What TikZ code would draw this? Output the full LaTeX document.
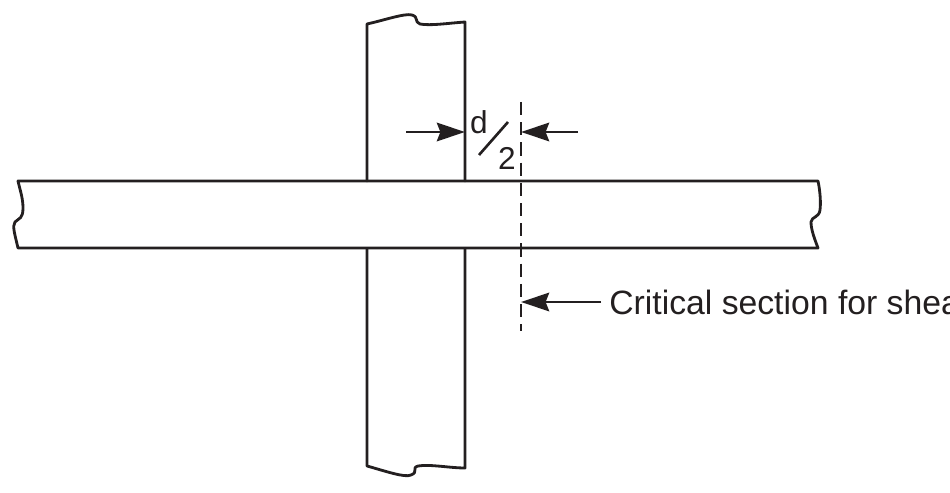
\documentclass[tikz,border=0pt]{standalone}
\usepackage{fontspec}
\setmainfont{Liberation Sans}
\usepackage{tikz}
\usetikzlibrary{positioning,arrows.meta}
\definecolor{ink}{HTML}{231F20}
\tikzset{
  edgeline/.style={ink,line width=1.6pt,line cap=round,line join=round},
  sectionline/.style={ink,line width=1.1pt,dash pattern=on 7.5pt off 4pt},
  dimarrow/.style={ink,line width=1.7pt,-{Stealth[length=16pt,width=10.5pt,inset=2pt]}},
  dimtext/.style={ink,font=\fontsize{18}{20}\selectfont,inner sep=0pt},
  labeltext/.style={ink,font=\fontsize{19.2}{22}\selectfont,inner sep=0pt}
}

\begin{document}
\begin{tikzpicture}[x=0.02cm,y=-0.02cm]
  \useasboundingbox (0,0) rectangle (950,493);

  \coordinate (ctl) at (367,24);
  \coordinate (ctr) at (465,22);
  \coordinate (cjl) at (367,181);
  \coordinate (cjr) at (465,181);
  \coordinate (cbl) at (367,466);
  \coordinate (cbr) at (465,468);
  \coordinate (ckl) at (367,249);
  \coordinate (ckr) at (465,249);
  \coordinate (stl) at (18,181);
  \coordinate (str) at (818,181);
  \coordinate (sbl) at (18,248);
  \coordinate (sbr) at (818,248);
  \coordinate (sectop) at (521,102);
  \coordinate (secbot) at (521,331);
  \coordinate (fromleft) at (406,132);
  \coordinate (atface) at (465,132);
  \coordinate (fromright) at (578,132);
  \coordinate (atsec) at (521,132);
  \coordinate (atlabel) at (521,302);
  \coordinate (slasha) at (508,122);
  \coordinate (slashb) at (479,155);

  \node (dtop) [dimtext] at (479,122) {d};
  \node (dbot) [dimtext] at (507,158) {2};
  \node (critical) [labeltext,anchor=base west] at (609,315) {Critical section for shea};
  \coordinate (critstart) at (601,302);

  % column above the slab
  \draw [edgeline] (cjl) -- (ctl) .. controls (385,20) and (405,13) .. (412,15)
    .. controls (419,17) and (414,22) .. (420,24) .. controls (430,26) and (450,23) .. (ctr) -- (cjr);
  % column below the slab
  \draw [edgeline] (ckl) -- (cbl) .. controls (385,471) and (405,478) .. (411,475)
    .. controls (419,472) and (411,468) .. (418,466) .. controls (430,464) and (450,468) .. (cbr) -- (ckr);
  % slab
  \draw [edgeline] (sbl) .. controls (15,235) and (12,226) .. (15,222) .. controls (19,218) and (23,219) .. (23,208)
    .. controls (23,198) and (20,190) .. (stl) -- (str)
    .. controls (820,190) and (821,203) .. (820,210) .. controls (819,218) and (812,216) .. (811,222)
    .. controls (811,230) and (815,240) .. (sbr) -- cycle;

  \draw [sectionline] (sectop) -- (secbot);
  \draw [dimarrow] (fromleft) -- (atface);
  \draw [dimarrow] (fromright) -- (atsec);
  \draw [dimarrow] (critstart) -- (atlabel);
  \draw [ink,line width=1.5pt] (slasha) -- (slashb);
\end{tikzpicture}
\end{document}
